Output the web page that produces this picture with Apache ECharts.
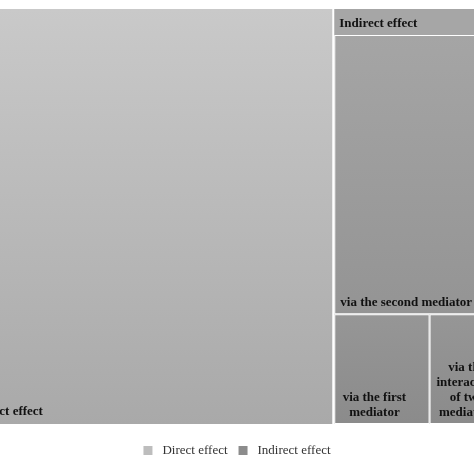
<!DOCTYPE html>
<html>
<head>
<meta charset="utf-8">
<script src="https://cdn.jsdelivr.net/npm/echarts@6/dist/echarts.min.js"></script>
<style>
html, body { margin: 0; padding: 0; background: #fff; }
#chart { width: 474px; height: 474px; }
</style>
</head>
<body>
<div id="chart"></div>
<script>
// values (share of total effect)
const topNames = ["Direct effect", "Indirect effect"]
const directValue = 68.6
const indirectNames = ["via the second mediator", "via the first mediator", "via the interaction of two mediators"]
const indirectValues = [22.55, 5.12, 3.73]
// how the leaf labels wrap in the picture
const indirectLabels = [
    ["via the second mediator"],
    ["via the first", "mediator"],
    ["via the", "interaction", "of two", "mediators"]
]

const FONT = "'Liberation Serif', 'DejaVu Serif', serif"

function grad(top, bottom){
    return {
        type: "linear", x: 0, y: 0, x2: 0, y2: 1,
        colorStops: [{ offset: 0, color: top }, { offset: 1, color: bottom }]
    }
}

const leafColors = [grad("#a5a5a5", "#949494"), grad("#969696", "#8b8b8b"), grad("#969696", "#8b8b8b")]

// plain text labels (no rich) so they sit on the bottom of the box
let children = indirectNames.map(function(n, i){
    let lines = indirectLabels[i]
    let lbl = { formatter: lines.join("\n"), padding: [0, 0, 3, 5] }
    if (lines.length > 1) {
        lbl.position = "insideBottom"
        lbl.align = "center"
    }
    if (i == 1) lbl.offset = [-10, 0]
    return {
        name: n,
        value: indirectValues[i],
        itemStyle: { color: leafColors[i] },
        label: lbl
    }
})

let treeData = [
    {
        name: topNames[0],
        value: directValue,
        itemStyle: { color: grad("#c9c9c9", "#a9a9a9") }
    },
    {
        name: topNames[1],
        itemStyle: { borderColor: "#a6a6a6", color: "#a6a6a6" },
        children: children
    }
]

let chart = echarts.init(document.getElementById("chart"))
chart.setOption({
    animation: false,
    backgroundColor: "#fff",
    legend: {
        data: topNames,
        top: 439,
        left: "center",
        // square at the left of a wider slot -> wider icon/text gap like the picture
        icon: "path://M0,0H10V10H0Z",
        symbolKeepAspect: true,
        itemWidth: 19,
        itemHeight: 9,
        itemGap: 11,
        textStyle: { fontFamily: FONT, fontSize: 13, color: "#333" }
    },
    // hidden axes only so the two legend series have somewhere to live
    grid: { left: 0, top: 0, width: 1, height: 1, show: false },
    xAxis: { show: false, type: "category", data: [] },
    yAxis: { show: false, type: "value" },
    series: [
        {
            type: "treemap",
            left: -30,
            top: 9,
            width: 529,
            height: 415,
            roam: false,
            nodeClick: false,
            silent: true,
            breadcrumb: { show: false },
            label: {
                show: true,
                position: "insideBottomLeft",
                color: "#111",
                fontFamily: FONT,
                fontWeight: "bold",
                fontSize: 13,
                lineHeight: 15,
                overflow: "none",
                padding: [0, 0, 5, 5]
            },
            levels: [
                { itemStyle: { borderWidth: 0, gapWidth: 2, borderColor: "#fff" } },
                {
                    itemStyle: { borderWidth: 0, gapWidth: 0 },
                    upperLabel: {
                        show: true,
                        height: 26,
                        color: "#111",
                        fontFamily: FONT,
                        fontWeight: "bold",
                        fontSize: 13,
                        padding: [0, 0, 0, 5],
                        offset: [0, 2]
                    }
                },
                { itemStyle: { borderWidth: 1, borderColor: "#fff", gapWidth: 0 } }
            ],
            data: treeData
        },
        { name: topNames[0], type: "bar", data: [], itemStyle: { color: "#bdbdbd" } },
        { name: topNames[1], type: "bar", data: [], itemStyle: { color: "#8c8c8c" } }
    ]
})
</script>
</body>
</html>
